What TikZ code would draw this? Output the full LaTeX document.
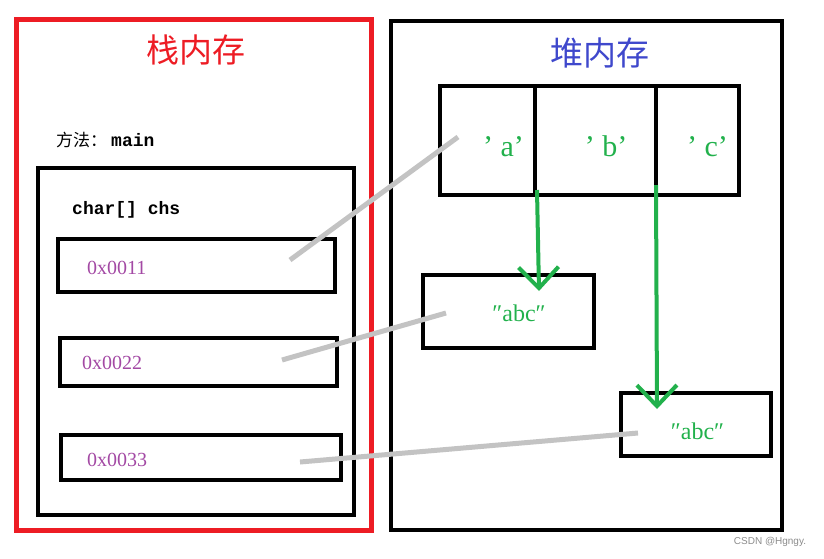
\documentclass[tikz,border=0pt]{standalone}
\usepackage{fontspec}
\setmainfont{Liberation Serif}
\setsansfont{Liberation Sans}
\setmonofont{Liberation Mono}
\newfontfamily\cjk{Noto Sans CJK SC}
\usetikzlibrary{arrows.meta,positioning}
\definecolor{stackred}{RGB}{237,28,36}
\definecolor{heapblue}{RGB}{63,72,204}
\definecolor{chargreen}{RGB}{34,177,76}
\definecolor{addrpurple}{RGB}{163,73,164}
\definecolor{linkgray}{RGB}{195,195,195}
\definecolor{markgray}{RGB}{140,140,140}
\tikzset{
  box/.style={draw, line width=4pt, inner sep=0pt, outer sep=0pt},
  addr/.style={addrpurple, anchor=west, inner sep=0pt, font=\fontsize{20}{22}\selectfont},
  chr/.style={chargreen, anchor=base, inner sep=0pt, font=\fontsize{30}{32}\selectfont},
  str/.style={chargreen, anchor=base, inner sep=0pt, font=\fontsize{24}{26}\selectfont},
  link/.style={linkgray, line width=5pt},
  ptr/.style={chargreen, line width=4pt, -{Straight Barb[length=21pt,width=40pt]}}
}

\begin{document}
\begin{tikzpicture}[x=1pt, y=-1pt]
    \useasboundingbox (0,0) rectangle (824,558);
    % Stack side
    \node[box, draw=stackred, line width=5pt, minimum width=354.5pt, minimum height=510.5pt] (stack) at (193.75,274.75) {};
    \node[stackred, font=\cjk\fontsize{33}{36}\selectfont] (stacktitle) at (196,50) {栈内存};
    \node[anchor=west, inner sep=0pt, font=\fontsize{17}{20}\selectfont] (method) at (56,140) {{\cjk 方法：}\hspace{4pt}{\ttfamily\bfseries\fontsize{18}{20}\selectfont main}};
    \node[box, minimum width=316pt, minimum height=347.5pt] (frame) at (195.5,341.25) {};
    \node[anchor=west, inner sep=0pt, font=\ttfamily\bfseries\fontsize{18}{20}\selectfont] (var) at (72,210) {char[] chs};
    \node[box, minimum width=277.5pt, minimum height=53pt] (ref1) at (196.25,265) {};
    \node[box, minimum width=277pt, minimum height=48pt] (ref2) at (198,361.5) {};
    \node[box, minimum width=280pt, minimum height=45pt] (ref3) at (200.5,457) {};
    \node[addr] (addr1) at (87,268) {0x0011};
    \node[addr] (addr2) at (82,363) {0x0022};
    \node[addr] (addr3) at (87,460) {0x0033};
    % Heap side
    \node[box, minimum width=391pt, minimum height=509.5pt] (heap) at (586.5,275.25) {};
    \node[heapblue, font=\cjk\fontsize{33}{36}\selectfont] (heaptitle) at (600,53) {堆内存};
    \node[box, minimum width=298.5pt, minimum height=109.5pt] (arr) at (589.25,140.25) {};
    \draw[line width=4pt] (535,85.5) -- (535,195);
    \draw[line width=4pt] (655.5,85.5) -- (655.5,195);
    \node[chr] (cha) at (503.5,156) {’ a’};
    \node[chr] (chb) at (606,156) {’ b’};
    \node[chr] (chc) at (707.5,156) {’ c’};
    \node[box, minimum width=171pt, minimum height=72.5pt] (str1) at (508,311.25) {};
    \node[box, minimum width=150pt, minimum height=63pt] (str2) at (695.5,424) {};
    \node[str] (abc1) at (519,321) {″abc″};
    \node[str] (abc2) at (697.5,439) {″abc″};
    % References
    \coordinate (from1) at (290,260);
    \coordinate (to1) at (458,137);
    \coordinate (from2) at (282,360);
    \coordinate (to2) at (446,313);
    \coordinate (from3) at (300,462);
    \coordinate (to3) at (638,433);
    \draw[link] (from1) -- (to1);
    \draw[link] (from2) -- (to2);
    \draw[link] (from3) -- (to3);
    % Element pointers
    \coordinate (cellb) at (537,190);
    \coordinate (cellc) at (656,185);
    \coordinate (hit1) at (539,291);
    \coordinate (hit2) at (657,409);
    \draw[ptr] (cellb) -- (hit1);
    \draw[ptr] (cellc) -- (hit2);
    \node[markgray, font=\sffamily\fontsize{10}{12}\selectfont] (mark) at (770,542) {CSDN @Hgngy.};
\end{tikzpicture}
\end{document}
